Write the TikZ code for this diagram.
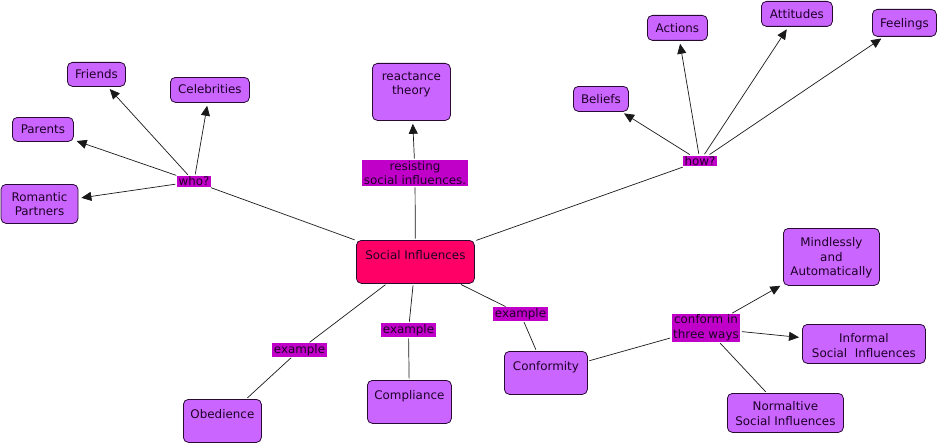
\documentclass[tikz,border=0pt]{standalone}
\usepackage{fontspec}
\setmainfont{DejaVu Sans}
\usetikzlibrary{arrows.meta}
\definecolor{nodefill}{RGB}{202,102,255}
\definecolor{labfill}{RGB}{192,0,200}
\definecolor{sifill}{RGB}{255,0,102}
\definecolor{txt}{RGB}{30,0,40}
\definecolor{edge}{RGB}{40,10,50}
\definecolor{linec}{RGB}{25,25,25}
\tikzset{
  box/.style={draw=edge, fill=nodefill, rounded corners=5pt, line width=0.8pt,
    inner sep=0pt, align=center, anchor=north west, text=txt,
    font=\fontsize{11.9}{14.7}\selectfont},
  lab/.style={fill=labfill, inner xsep=1.5pt, inner ysep=0.8pt, align=center,
    text=txt, font=\fontsize{11.9}{14.7}\selectfont},
  conn/.style={line width=0.7pt, draw=linec, shorten <=1.5pt, shorten >=1.5pt},
  arr/.style={line width=0.7pt, draw=linec, shorten <=1.5pt, shorten >=3pt,
    -{Triangle[length=10pt,width=9pt]}}
}
\begin{document}
\begin{tikzpicture}[x=1pt,y=-1pt]
\useasboundingbox (0,0) rectangle (939,444);
% concept nodes
\node[box, minimum width=58pt, text height=16.5pt, text depth=7.5pt] (friends) at (67,62) {Friends};
\node[box, minimum width=79pt, text height=16.5pt, text depth=8.5pt] (celeb) at (170,77) {Celebrities};
\node[box, minimum width=61pt, text height=16.5pt, text depth=7.5pt] (parents) at (12,117) {Parents};
\node[box, minimum width=77pt, text height=31.3pt, text depth=7.7pt] (romantic) at (0.6,184) {Romantic\\Partners};
\node[box, minimum width=78pt, text height=31.3pt, text depth=25.7pt] (react) at (372,63) {reactance\\theory};
\node[box, fill=sifill, minimum width=118pt, text height=19pt, text depth=24pt] (si) at (356,240) {Social Influences};
\node[box, minimum width=55pt, text height=17.5pt, text depth=7.5pt] (beliefs) at (573,86) {Beliefs};
\node[box, minimum width=60pt, text height=17.5pt, text depth=7.5pt] (actions) at (647,15) {Actions};
\node[box, minimum width=71pt, text height=17.3pt, text depth=7.7pt] (attitudes) at (761,1) {Attitudes};
\node[box, minimum width=64pt, text height=17.7pt, text depth=9.3pt] (feelings) at (872,9) {Feelings};
\node[box, minimum width=83pt, text height=19pt, text depth=24pt] (conformity) at (504,351) {Conformity};
\node[box, minimum width=96pt, text height=47.5pt, text depth=9.5pt] (mindless) at (783,228) {Mindlessly\\and\\Automatically};
\node[box, minimum width=123pt, text height=32.7pt, text depth=6.3pt] (informal) at (802,324) {Informal\\Social\ \ Influences};
\node[box, minimum width=116pt, text height=32pt, text depth=7pt] (normative) at (727,393) {Normaltive\\Social Influences};
\node[box, minimum width=78pt, text height=18.7pt, text depth=24.3pt] (obedience) at (183,399) {Obedience};
\node[box, minimum width=84pt, text height=19pt, text depth=24pt] (compliance) at (367,380) {Compliance};
% linking phrases
\node[lab] (who) at (194,181.5) {who?};
\node[lab] (resist) at (415,173) {resisting\\social influences.};
\node[lab] (how) at (700,161) {how?};
\node[lab] (three) at (706,328) {conform in\\three ways};
\node[lab] (exR) at (520.5,314) {example};
\node[lab] (exL) at (299.5,350) {example};
\node[lab] (exM) at (408.5,330) {example};
% connectors
\draw[conn] (si) -- (who);
\draw[arr] (who) -- (friends);
\draw[arr] (who) -- (celeb);
\draw[arr] (who) -- (parents);
\draw[arr] (who) -- (romantic);
\draw[conn] (si) -- (resist);
\draw[arr] (resist) -- (react);
\draw[conn] (si) -- (how);
\draw[arr] (how) -- (beliefs);
\draw[arr] (how) -- (actions);
\draw[arr] (how) -- (attitudes);
\draw[arr] (how) -- (feelings);
\draw[conn] (si) -- (exL);
\draw[conn] (exL) -- (obedience);
\draw[conn] (si) -- (exM);
\draw[conn] (exM) -- (compliance);
\draw[conn] (si) -- (exR);
\draw[conn] (exR) -- (conformity);
\draw[conn] (conformity) -- (three);
\draw[arr] (three) -- (mindless);
\draw[arr] (three) -- (informal);
\draw[conn] (three) -- (normative);
\end{tikzpicture}
\end{document}
